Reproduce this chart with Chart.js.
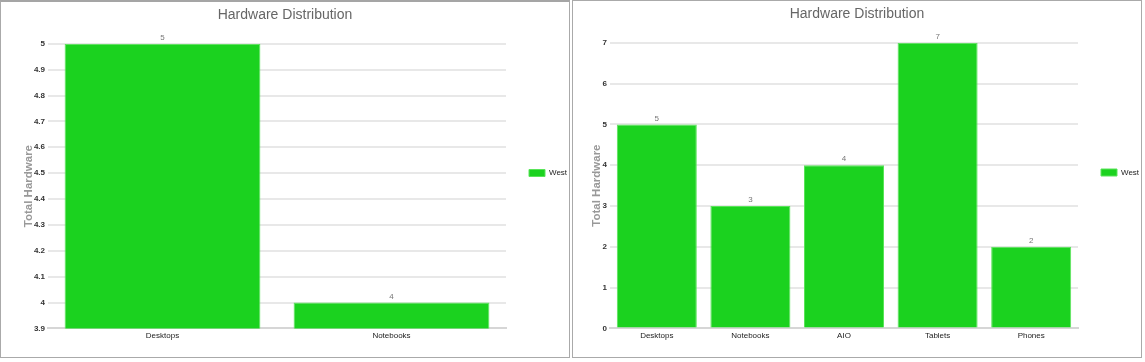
<!DOCTYPE html>
<html>
<head>
<meta charset="utf-8">
<script src="https://cdn.jsdelivr.net/npm/chart.js@4.4.1/dist/chart.umd.min.js"></script>
<style>
  body { margin: 0; background: #fff; }
  .panel { position: absolute; top: 0; height: 356px; border: 1px solid #aaa; background: #fff; }
  #p1 { left: 0; width: 568px; border-top: 2px solid #a5a5a5; height: 355px; }
  #p2 { left: 572px; width: 568px; }
</style>
</head>
<body>
<div class="panel" id="p1"><canvas id="leftChart"></canvas></div>
<div class="panel" id="p2"><canvas id="rightChart"></canvas></div>
<script>
var titleText = 'Hardware Distribution';
var seriesName = 'West';
var leftCategories = ['Desktops', 'Notebooks'];
var leftValues = [5, 4];
var leftMin = 3.9, leftMax = 5, leftStep = 0.1;
var rightCategories = ['Desktops', 'Notebooks', 'AIO', 'Tablets', 'Phones'];
var rightValues = [5, 3, 4, 7, 2];
var rightMin = 0, rightMax = 7, rightStep = 1;

var barGreen = 'rgb(27,210,31)';
var fontFamily = '"Liberation Sans", Arial, sans-serif';

// value label above each bar
var valueLabels = {
  id: 'valueLabels',
  afterDatasetsDraw: function(chart) {
    var ctx = chart.ctx;
    ctx.save();
    ctx.font = '8px ' + fontFamily;
    ctx.fillStyle = '#777';
    ctx.textAlign = 'center';
    ctx.textBaseline = 'bottom';
    chart.data.datasets.forEach(function(ds, i) {
      chart.getDatasetMeta(i).data.forEach(function(bar, j) {
        ctx.fillText(ds.data[j], bar.x, bar.y - 2);
      });
    });
    ctx.restore();
  }
};

function makeChart(id, labels, values, min, max, step, axisWidth, titleGap) {
  var ctx = document.getElementById(id).getContext('2d');
  return new Chart(ctx, {
    type: 'bar',
    data: {
      labels: labels,
      datasets: [{
        label: seriesName,
        data: values,
        backgroundColor: barGreen,
        borderColor: 'rgb(90,228,90)',
        borderWidth: 1,
        barPercentage: 0.9,
        categoryPercentage: 0.95
      }]
    },
    options: {
      responsive: true,
      maintainAspectRatio: false,
      animation: false,
      layout: { padding: { left: 0, right: 0, top: 0, bottom: 13 } },
      plugins: {
        title: {
          display: true,
          text: titleText,
          color: '#666',
          font: { family: fontFamily, size: 14, weight: 'normal' },
          padding: { top: 5, bottom: 20 }
        },
        legend: {
          position: 'right',
          maxWidth: 63,
          labels: {
            boxWidth: 16,
            boxHeight: 7,
            padding: 23,
            color: '#222',
            font: { family: fontFamily, size: 8 }
          }
        },
        tooltip: { enabled: false }
      },
      scales: {
        x: {
          grid: { display: false, drawTicks: false },
          border: { display: true, color: '#d6d6d6', width: 2 },
          ticks: {
            color: '#222',
            padding: 3,
            font: { family: fontFamily, size: 8 }
          }
        },
        y: {
          min: min,
          max: max,
          grid: { color: '#e8e8e8', lineWidth: 2, drawTicks: false },
          border: { display: false },
          title: {
            display: true,
            text: 'Total Hardware',
            color: '#999',
            font: { family: fontFamily, size: 11.5, weight: 'bold' },
            padding: { top: titleGap, bottom: 0 }
          },
          ticks: {
            stepSize: step,
            color: '#333',
            padding: 3,
            font: { family: fontFamily, size: 8, weight: 'bold' },
            callback: function(v) { return Number(v.toFixed(1)); }
          },
          afterFit: function(scale) { scale.width = axisWidth; }
        }
      }
    },
    plugins: [valueLabels]
  });
}

makeChart('leftChart', leftCategories, leftValues, leftMin, leftMax, leftStep, 47, 21);
makeChart('rightChart', rightCategories, rightValues, rightMin, rightMax, rightStep, 37, 17);
</script>
</body>
</html>
